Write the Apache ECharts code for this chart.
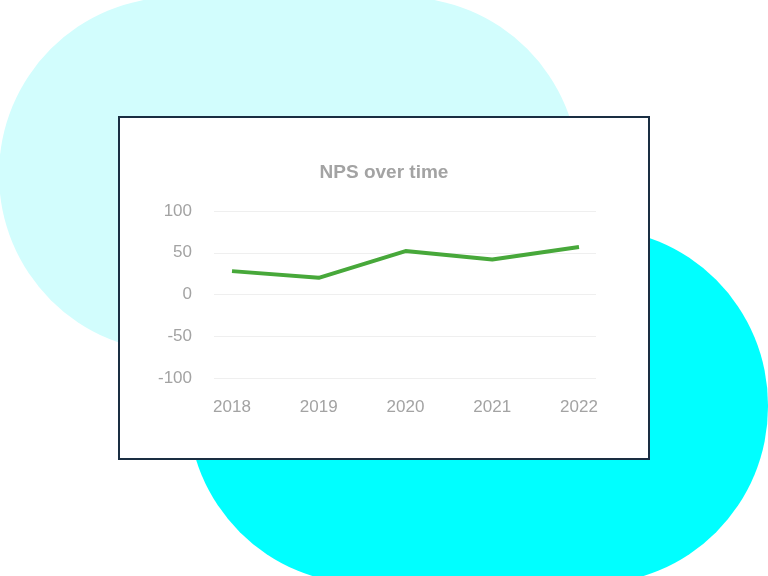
<!DOCTYPE html>
<html>
<head>
<meta charset="utf-8">
<script src="https://cdn.jsdelivr.net/npm/echarts@6/dist/echarts.min.js"></script>
<style>
html,body{margin:0;padding:0;background:#ffffff;}
#chart{width:768px;height:576px;}
</style>
</head>
<body>
<div id="chart"></div>
<script>
var titleText = 'NPS over time';
var years = ['2018', '2019', '2020', '2021', '2022'];
var npsValues = [28, 20, 52, 42, 57];
var yMin = -100;
var yMax = 100;
var yStep = 50;

var chart = echarts.init(document.getElementById('chart'), null, {renderer: 'canvas'});
var labelColor = '#a3a3a3';
var fontFam = '"Liberation Sans", Arial, Helvetica, sans-serif';

var option = {
  backgroundColor: '#ffffff',
  animation: false,
  graphic: [
    {type: 'rect', z: -30, silent: true, shape: {x: -1, y: -3, width: 580, height: 355, r: 177}, style: {fill: '#d2fdfd'}},
    {type: 'rect', z: -29, silent: true, shape: {x: 188, y: 228, width: 580, height: 356, r: 177}, style: {fill: '#00ffff'}},
    {type: 'rect', z: -28, silent: true, shape: {x: 119, y: 117, width: 530, height: 342}, style: {fill: '#ffffff', stroke: '#1a2e42', lineWidth: 2}}
  ],
  title: {
    text: titleText,
    left: 'center',
    top: 158,
    textStyle: {color: '#a3a3a3', fontSize: 19, fontWeight: 'bold', fontFamily: fontFam}
  },
  grid: [
    {left: 214, right: 172, top: 211, bottom: 198},
    {left: 232, right: 189, top: 211, bottom: 198}
  ],
  xAxis: [
    {gridIndex: 0, type: 'category', data: years, show: false},
    {
      gridIndex: 1, type: 'category', data: years, boundaryGap: false,
      axisLine: {show: false}, axisTick: {show: false}, splitLine: {show: false},
      axisLabel: {color: labelColor, fontSize: 17, fontFamily: fontFam, margin: 21}
    }
  ],
  yAxis: [
    {
      gridIndex: 0, type: 'value', min: yMin, max: yMax, interval: yStep,
      axisLine: {show: false}, axisTick: {show: false},
      axisLabel: {color: labelColor, fontSize: 17, fontFamily: fontFam, margin: 22, padding: [2, 0, 0, 0]},
      splitLine: {show: true, lineStyle: {color: '#efefef', width: 1}}
    },
    {
      gridIndex: 1, type: 'value', min: yMin, max: yMax, interval: yStep,
      show: false, splitLine: {show: false}
    }
  ],
  series: [
    {
      type: 'line', xAxisIndex: 1, yAxisIndex: 1,
      data: npsValues, symbol: 'none', smooth: false,
      lineStyle: {color: '#47a83a', width: 4}
    }
  ]
};
chart.setOption(option);
</script>
</body>
</html>
